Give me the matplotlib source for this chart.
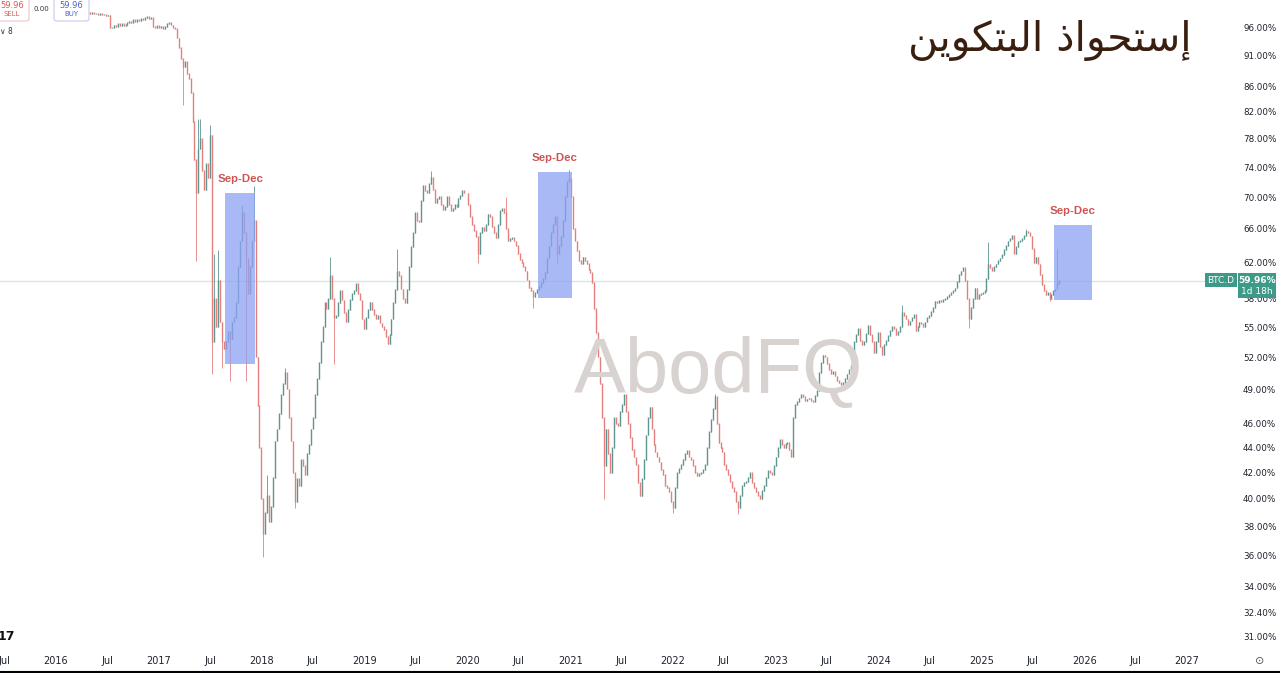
import numpy as np
import pandas as pd
import matplotlib
matplotlib.use("Agg")
import matplotlib.pyplot as plt
import matplotlib.dates as mdates
from matplotlib.patches import Rectangle, FancyBboxPatch

# ---------------- data (weekly closes of BTC dominance, %) ----------------
closes_a = [98.2, 98.4, 98.3, 98.5, 98.4, 98.3, 98.5, 98.6, 98.4,
            98.5, 98.3, 98.4, 98.2, 98.3, 98.1, 98.2, 98.0, 98.1,
            95.8,
            95.9, 96.3, 96.0, 96.5, 96.2, 96.6, 96.1, 96.4,
            96.8, 97.0, 96.7, 97.2, 96.9, 97.3, 97.1, 97.4, 97.2,
            97.6, 97.8, 97.5, 97.7,
            96.0,
            95.8, 96.2, 95.9, 96.1, 95.7, 96.0, 96.5, 96.7, 96.3, 95.9,
            95.6, 94.0, 92.3, 90.5, 89.2, 90.0, 88.0, 87.2, 85.0, 80.5, 75.0, 70.5,
            76.5, 78.0, 73.5, 71.0, 74.5, 72.5, 78.5,
            53.5, 58.0, 55.0, 60.0, 55.5, 53.5, 52.8, 53.5, 54.5, 53.8,
            55.5, 56.0, 57.5, 61.5, 64.5, 68.0, 65.5, 62.5, 58.5, 61.5, 64.5, 67.0,
            52.0, 47.5, 44.0, 40.0, 37.5, 39.0, 40.2, 38.3]
closes_b = [39.4, 41.6, 44.5, 45.5, 46.8, 48.5, 49.5, 50.5, 49.0, 46.5, 44.5, 42.0, 39.8,
            41.5, 41.0, 43.0, 42.5, 41.8, 43.5, 44.2, 45.5, 46.5, 48.5, 50.0, 51.5, 53.5,
            55.0, 57.5, 56.9, 58.0,
            60.5, 58.0, 56.0, 56.2, 57.5, 58.8, 57.8, 56.5, 55.5, 56.8, 57.9, 58.5, 58.8,
            59.6, 58.5, 57.8, 55.8, 54.8, 56.0, 56.8,
            57.6, 56.8, 56.3, 55.8, 56.2, 55.4, 55.0, 54.7, 54.0, 53.3, 54.2, 55.8, 57.5,
            58.9, 61.0, 60.5, 59.0, 58.0, 57.5, 58.9,
            61.5, 63.8, 65.5, 68.0, 67.0, 66.8, 69.5, 71.5, 70.8, 70.5, 71.8, 72.6, 71.0,
            69.3, 69.8, 70.0, 69.0, 68.3, 68.8, 70.0,
            69.0, 68.2, 68.5, 69.0, 68.7, 69.8, 70.2, 70.8, 70.5, 70.5, 69.0]
closes_c = [67.5, 66.5, 65.8, 65.0, 63.0, 65.5, 66.2, 65.7, 66.5, 67.8, 67.5, 66.3, 65.5,
            64.9, 66.5, 68.2, 68.5, 68.0, 66.0, 64.5,
            64.8, 64.9, 64.5, 64.0, 63.0, 62.3, 62.0, 61.5, 61.0, 60.0, 59.2, 58.8, 58.2,
            58.6, 58.9, 59.3, 59.7, 60.2, 60.8, 62.5,
            63.9, 65.5, 66.5, 67.5, 63.0, 64.0, 65.0, 67.0, 70.0, 72.0, 72.5, 70.0, 66.0,
            64.5, 63.4, 62.2, 61.9, 62.6, 62.2, 61.9,
            61.2, 60.8, 59.7, 56.9, 54.4, 52.0, 49.5, 46.5, 42.5, 45.5, 43.5, 42.0, 44.0,
            46.5, 46.0, 45.8, 47.0, 47.6, 48.5, 47.0,
            46.0, 44.8, 43.8, 43.2, 42.6, 41.2, 40.2, 41.5, 43.0, 45.0, 46.5, 47.4, 45.5,
            44.2, 43.6, 43.2, 42.8, 42.2, 41.8, 41.0, 40.8]
closes_d = [40.5, 39.8, 39.3, 40.8, 42.0, 42.3, 42.6, 43.0, 43.5, 43.7, 43.2, 43.0, 42.5,
            42.0, 41.7, 41.9, 42.0, 42.2, 42.6, 44.0,
            45.3, 46.3, 47.3, 48.3, 46.0, 44.4, 44.0, 43.6, 42.6, 42.2, 41.8, 41.3, 40.8,
            40.5, 39.8, 39.3, 40.2, 41.0, 41.2, 41.3,
            41.6, 42.0, 41.2, 40.8, 40.5, 40.2, 40.0, 40.6, 41.0, 41.6, 42.1, 42.0, 41.8,
            42.5, 43.2, 44.0, 44.6, 44.2, 44.0, 44.3,
            44.4, 43.8, 43.2, 46.5, 47.6, 47.9, 48.2, 48.5, 48.3, 48.0, 48.1, 48.2, 48.0,
            47.9, 48.4, 48.9, 50.5, 51.5, 52.2, 52.0, 51.4,
            50.8, 50.4, 50.6, 50.2, 49.8, 49.6, 49.4, 49.6, 50.0, 50.4, 50.8, 51.2, 52.5,
            53.5, 54.2, 54.8, 53.6, 53.2, 53.5, 54.3]
closes_e = [55.1, 54.2, 53.5, 52.4, 53.5, 54.4, 53.0, 52.2, 53.2, 53.6, 54.1, 54.6, 55.0,
            54.8, 54.2, 54.5, 55.0, 56.5, 56.2, 55.8,
            55.2, 55.6, 56.0, 56.3, 54.6, 55.0, 55.5, 55.3, 55.0, 55.5, 56.0, 56.2, 56.6,
            57.0, 57.7, 57.5, 57.8, 57.6, 57.9, 58.0,
            58.2, 58.4, 58.6, 58.8, 59.1, 59.8, 60.6, 61.0, 61.4, 59.9, 58.0, 55.8, 57.0,
            58.0, 59.1, 58.0, 58.4, 58.5, 58.6, 58.8, 60.2,
            61.8, 61.4, 61.0, 61.5, 61.8, 62.2, 62.5, 62.9, 63.5, 64.0, 64.5, 64.8, 65.2,
            63.0, 63.8, 64.4, 64.6, 64.8, 65.2, 65.7,
            65.5, 65.1, 63.6, 62.0, 62.6, 61.8, 60.6, 59.5, 58.8, 58.4, 58.6, 58.0, 58.4,
            58.8, 59.0, 59.6, 59.96]

first_week = "2016-03-06"

# notable wicks (week index -> extreme value)
wick_low_idx = [55, 62, 70, 75, 79, 87, 96, 112, 132, 205, 233, 245, 269, 304, 337, 454, 495]
wick_low_val = [83.0, 62.2, 50.4, 51.0, 49.8, 49.8, 35.9, 39.3, 51.4, 62.0, 57.0, 62.0, 40.0,
                39.0, 38.9, 54.9, 57.7]
wick_high_idx = [63, 64, 69, 71, 73, 85, 91, 98, 107, 130, 164, 181, 219, 251, 325, 420, 464,
                 483, 499]
wick_high_val = [81.0, 81.0, 80.0, 63.0, 63.5, 69.0, 71.5, 41.8, 51.0, 62.7, 63.6, 73.5, 70.0,
                 73.6, 48.6, 57.3, 64.4, 66.0, 63.6]

# Sep-Dec highlight boxes
box_start = ["2017-08-24", "2020-09-09", "2025-09-16"]
box_end = ["2017-12-08", "2021-01-07", "2026-01-29"]
box_low = [51.4, 58.1, 57.9]
box_high = [70.5, 73.3, 66.5]
box_label = "Sep-Dec"

y_ticks = [96, 91, 86, 82, 78, 74, 70, 66, 62, 58, 55, 52, 49, 46, 44, 42, 40, 38, 36, 34,
           32.4, 31]
last_value = 59.96
symbol = "BTC.D"
countdown = "1d 18h"

# Arabic title "إستحواذ البتكوين" in presentation forms, visual (left-to-right) order
title_codes = [0xFEE6, 0xFEF3, 0xFEEE, 0xFEDC, 0xFE98, 0xFE92, 0xFEDF, 0xFE8D, 0x20,
               0xFEAB, 0xFE8D, 0xFEEE, 0xFEA4, 0xFE98, 0xFEB3, 0xFE87]
title = "".join(chr(c) for c in title_codes)
watermark = "AbodFQ"

# ---------------- build OHLC ----------------
closes = np.array(closes_a + closes_b + closes_c + closes_d + closes_e, dtype=float)
dates = pd.date_range(first_week, periods=len(closes), freq="7D")
opens = np.concatenate([[closes[0]], closes[:-1]])
highs = np.maximum(opens, closes)
lows = np.minimum(opens, closes)
for i, v in zip(wick_low_idx, wick_low_val):
    lows[i] = min(lows[i], v)
for i, v in zip(wick_high_idx, wick_high_val):
    highs[i] = max(highs[i], v)

W, H = 1280, 673
fig = plt.figure(figsize=(W / 100, H / 100), dpi=100)
fig.patch.set_facecolor("white")

def fx(x):
    return x / W

def fy(y):
    return 1 - y / H

ax_right, ax_bottom = 1207, 648
ax = fig.add_axes([0, fy(ax_bottom), fx(ax_right), ax_bottom / H])
ax.set_facecolor("white")
ax.set_yscale("log")

# axis scaling: log, 539 px per ln unit, 96% at y=27
ppl = 539.0
ylim = (96 * np.exp(-(ax_bottom - 27) / ppl), 96 * np.exp(27 / ppl))
d2016 = mdates.date2num(pd.Timestamp("2016-01-01"))
ppd = 102.8 / 365.25
xlim = (d2016 - 56 / ppd, d2016 + (ax_right - 56) / ppd)

up_col, dn_col = "#5e958e", "#e3807d"
xd = mdates.date2num(dates)
cols = [up_col if c >= o else dn_col for o, c in zip(opens, closes)]
ax.vlines(xd, lows, highs, colors=cols, linewidth=0.6, zorder=2)
ax.vlines(xd, np.minimum(opens, closes), np.maximum(opens, closes) * 1.0015,
          colors=cols, linewidth=1.0, zorder=2)

# boxes
for s, e, lo, hi in zip(box_start, box_end, box_low, box_high):
    s_n = mdates.date2num(pd.Timestamp(s))
    e_n = mdates.date2num(pd.Timestamp(e))
    ax.add_patch(Rectangle((s_n, lo), e_n - s_n, hi - lo, facecolor="#8da2f4",
                           edgecolor="none", alpha=0.75, zorder=3))
    ax.annotate(box_label, xy=((s_n + e_n) / 2, hi), xytext=(0, 6.5),
                textcoords="offset points", ha="center", va="bottom",
                fontsize=8.2, fontweight="bold", family="Liberation Sans",
                color="#cc5553", zorder=4)

# last price line
ax.axhline(last_value, color="#d6e8e3", linewidth=1.0, zorder=1)

# watermark
ax.text(719 / ax_right, 1 - 373 / ax_bottom, watermark, transform=ax.transAxes, fontsize=56,
        family="Liberation Sans", color="#d8d3d1", ha="center", va="center", zorder=5)

# ticks
ax.yaxis.tick_right()
ax.set_yticks(y_ticks)
ax.set_yticklabels([f"{v:.2f}%" for v in y_ticks])
ax.yaxis.set_minor_locator(matplotlib.ticker.NullLocator())
ax.tick_params(axis="y", length=0, pad=26, labelsize=6.3, labelcolor="#1e222d")

xt, xl = [], []
for yr in range(2015, 2028):
    for m in (1, 7):
        t = mdates.date2num(pd.Timestamp(f"{yr}-{m:02d}-01"))
        if xlim[0] <= t <= xlim[1]:
            xt.append(t)
            xl.append(str(yr) if m == 1 else "Jul")
ax.set_xticks(xt)
ax.set_xticklabels(xl)
ax.xaxis.set_minor_locator(matplotlib.ticker.NullLocator())
ax.tick_params(axis="x", length=0, pad=6, labelsize=7.0, labelcolor="#1e222d")
for sp in ax.spines.values():
    sp.set_visible(False)
ax.set_xlim(*xlim)
ax.set_ylim(*ylim)

# title
fig.text(fx(1192), fy(40), title, family="DejaVu Sans", fontsize=29.5, color="#3a1f10",
         ha="right", va="center")

# price tag
tag = "#3d9a88"
fig.patches.append(Rectangle((fx(1205), fy(287)), fx(32), 14 / H, transform=fig.transFigure,
                             facecolor=tag, edgecolor="none", zorder=5))
fig.patches.append(Rectangle((fx(1238), fy(298)), fx(38), 25 / H, transform=fig.transFigure,
                             facecolor=tag, edgecolor="none", zorder=5))
fig.text(fx(1221), fy(280.5), symbol, color="white", fontsize=6.5, ha="center", va="center",
         zorder=6)
fig.text(fx(1257), fy(280), f"{last_value:.2f}%", color="white", fontsize=6.5,
         fontweight="bold", ha="center", va="center", zorder=6)
fig.text(fx(1257), fy(291.5), countdown, color="white", fontsize=6.5, ha="center",
         va="center", zorder=6)

# trading widget (top-left)
fig.patches.append(FancyBboxPatch((fx(-4), fy(21)), fx(33), 23 / H,
                                  boxstyle="round,pad=0,rounding_size=0.003",
                                  transform=fig.transFigure, facecolor="white",
                                  edgecolor="#efc4c4", linewidth=0.8, zorder=5))
fig.patches.append(FancyBboxPatch((fx(54), fy(21)), fx(35), 23 / H,
                                  boxstyle="round,pad=0,rounding_size=0.003",
                                  transform=fig.transFigure, facecolor="white",
                                  edgecolor="#c5cbef", linewidth=0.8, zorder=5))
fig.text(fx(12), fy(5), f"{last_value:.2f}", color="#e05555", fontsize=6, ha="center",
         va="center", zorder=6)
fig.text(fx(12), fy(14), "SELL", color="#e05555", fontsize=5, ha="center", va="center",
         zorder=6)
fig.text(fx(41), fy(9), "0.00", color="#333333", fontsize=5, ha="center", va="center",
         zorder=6)
fig.text(fx(71), fy(5), f"{last_value:.2f}", color="#4d5fd0", fontsize=6, ha="center",
         va="center", zorder=6)
fig.text(fx(71), fy(14), "BUY", color="#4d5fd0", fontsize=5, ha="center", va="center",
         zorder=6)
fig.text(fx(0), fy(31), "\u2228 8", color="#333333", fontsize=5.5, ha="left", va="center",
         zorder=6)

# logo fragment and settings icon
fig.text(fx(-2), fy(636), "17", color="#111111", fontsize=9, fontweight="heavy",
         ha="left", va="center", zorder=6)
fig.text(fx(1260), fy(661), "\u2299", color="#555555", fontsize=8, ha="center",
         va="center", zorder=6)

# bottom border
fig.add_artist(plt.Line2D([0, 1], [fy(671.5), fy(671.5)], transform=fig.transFigure,
                          color="black", linewidth=1.5))

fig.savefig("out.png", dpi=100, facecolor="white")
